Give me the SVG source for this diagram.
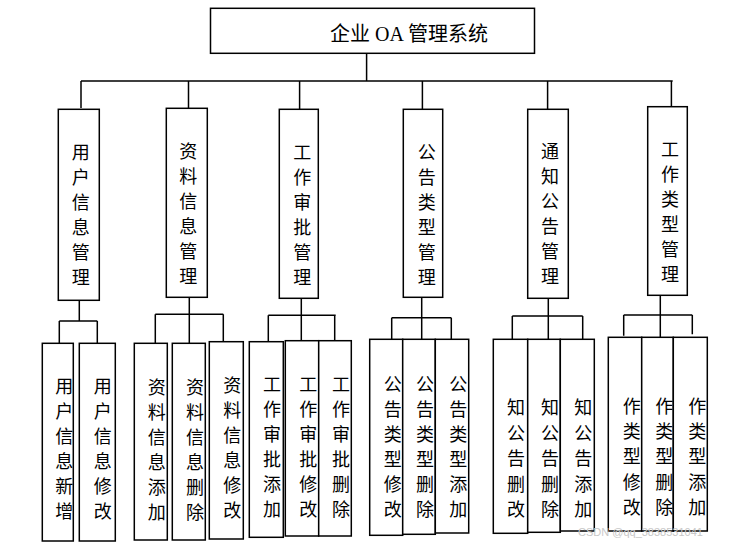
<svg xmlns="http://www.w3.org/2000/svg" width="735" height="546" viewBox="0 0 735 546">
<style>
.b{fill:#fff;stroke:#000;stroke-width:1.5}
.t{font-family:"Liberation Serif","Noto Sans CJK SC",serif;font-size:18px;fill:#000;text-anchor:middle;dominant-baseline:central}
.c{fill:none;stroke:#000;stroke-width:1.5}
.w{font-family:"Liberation Sans","DejaVu Sans",sans-serif;font-size:11px;fill:#c8c8c8}
</style>
<rect width="735" height="546" fill="#fff"/>
<g id="connectors" class="c">
<path d="M366.6,53 V81 M81,81 H672.7 M81,81 V108 M188.5,81 V108 M299.6,81 V109 M422.4,81 V109 M547.6,81 V109 M671.4,81 V106.7"/>
<path d="M79.3,300 V321 M59.3,321 H97.3 M59.3,321 V343.3 M97.3,321 V343.3"/>
<path d="M189.3,297 V314.3 M155.3,314.3 H223.3 M155.3,314.3 V343.3 M189.3,314.3 V343.3 M223.3,314.3 V341.7"/>
<path d="M301.3,298 V315.3 M268.3,315.3 H335.7 M268.3,315.3 V341.7 M301.3,315.3 V340.7 M334.7,315.3 V340.7"/>
<path d="M421.7,297 V317.7 M391.7,317.7 H451.3 M391.7,317.7 V339.3 M421.7,317.7 V339.3 M451.3,317.7 V339.3"/>
<path d="M548.3,298 V316 M512.3,316 H582.7 M512.3,316 V339.3 M548.3,316 V339.3 M582.7,316 V339.3"/>
<path d="M660.3,295 V315 M623.7,315 H692.3 M623.7,315 V335.7 M660.3,315 V337.3 M692.3,315 V334.3"/>
</g>
<g id="root"><rect class="b" x="210.5" y="8.3" width="324" height="45"/><text class="t" x="409" y="33.5" style="font-size:20px">企业 OA 管理系统</text></g>
<g id="n1"><rect class="b" x="58.3" y="109.3" width="41" height="191"/><text class="t"><tspan x="80.7" y="153">用</tspan><tspan x="80.7" y="178">户</tspan><tspan x="80.7" y="203">信</tspan><tspan x="80.7" y="228">息</tspan><tspan x="80.7" y="253">管</tspan><tspan x="80.7" y="278">理</tspan></text></g>
<g id="n2"><rect class="b" x="166.3" y="108.3" width="41" height="189"/><text class="t"><tspan x="188.3" y="151.7">资</tspan><tspan x="188.3" y="176.7">料</tspan><tspan x="188.3" y="201.7">信</tspan><tspan x="188.3" y="226.7">息</tspan><tspan x="188.3" y="251.7">管</tspan><tspan x="188.3" y="276.7">理</tspan></text></g>
<g id="n3"><rect class="b" x="279.3" y="109.3" width="39" height="189"/><text class="t"><tspan x="302.3" y="153.3">工</tspan><tspan x="302.3" y="178.3">作</tspan><tspan x="302.3" y="203.3">审</tspan><tspan x="302.3" y="228.3">批</tspan><tspan x="302.3" y="253.3">管</tspan><tspan x="302.3" y="278.3">理</tspan></text></g>
<g id="n4"><rect class="b" x="403.3" y="109.3" width="39.4" height="188"/><text class="t"><tspan x="426.7" y="153.3">公</tspan><tspan x="426.7" y="178.3">告</tspan><tspan x="426.7" y="203.3">类</tspan><tspan x="426.7" y="228.3">型</tspan><tspan x="426.7" y="253.3">管</tspan><tspan x="426.7" y="278.3">理</tspan></text></g>
<g id="n5"><rect class="b" x="527.7" y="109.3" width="40.6" height="189"/><text class="t"><tspan x="550" y="152.3">通</tspan><tspan x="550" y="177.3">知</tspan><tspan x="550" y="202.3">公</tspan><tspan x="550" y="227.3">告</tspan><tspan x="550" y="252.3">管</tspan><tspan x="550" y="277.3">理</tspan></text></g>
<g id="n6"><rect class="b" x="647.7" y="106.7" width="39.6" height="188.6"/><text class="t"><tspan x="670" y="150">工</tspan><tspan x="670" y="175">作</tspan><tspan x="670" y="200">类</tspan><tspan x="670" y="225">型</tspan><tspan x="670" y="250">管</tspan><tspan x="670" y="275">理</tspan></text></g>
<g id="l1"><rect class="b" x="42.3" y="343.3" width="31" height="197.7"/><text class="t"><tspan x="64.3" y="386.7">用</tspan><tspan x="64.3" y="411.7">户</tspan><tspan x="64.3" y="436.7">信</tspan><tspan x="64.3" y="461.7">息</tspan><tspan x="64.3" y="486.7">新</tspan><tspan x="64.3" y="511.7">增</tspan></text></g>
<g id="l2"><rect class="b" x="79.3" y="343.3" width="36" height="197.7"/><text class="t"><tspan x="102.7" y="386.7">用</tspan><tspan x="102.7" y="411.7">户</tspan><tspan x="102.7" y="436.7">信</tspan><tspan x="102.7" y="461.7">息</tspan><tspan x="102.7" y="486.7">修</tspan><tspan x="102.7" y="511.7">改</tspan></text></g>
<g id="l3"><rect class="b" x="134.3" y="343.3" width="33" height="196.7"/><text class="t"><tspan x="156.7" y="388">资</tspan><tspan x="156.7" y="413">料</tspan><tspan x="156.7" y="438">信</tspan><tspan x="156.7" y="463">息</tspan><tspan x="156.7" y="488">添</tspan><tspan x="156.7" y="513">加</tspan></text></g>
<g id="l4"><rect class="b" x="172.3" y="343.3" width="33" height="196.7"/><text class="t"><tspan x="195" y="388">资</tspan><tspan x="195" y="413">料</tspan><tspan x="195" y="438">信</tspan><tspan x="195" y="463">息</tspan><tspan x="195" y="488">删</tspan><tspan x="195" y="513">除</tspan></text></g>
<g id="l5"><rect class="b" x="209.3" y="341.7" width="34" height="197.3"/><text class="t"><tspan x="232.3" y="386">资</tspan><tspan x="232.3" y="411">料</tspan><tspan x="232.3" y="436">信</tspan><tspan x="232.3" y="461">息</tspan><tspan x="232.3" y="486">修</tspan><tspan x="232.3" y="511">改</tspan></text></g>
<g id="l6"><rect class="b" x="249.3" y="341.7" width="34" height="195.6"/><text class="t"><tspan x="272" y="385">工</tspan><tspan x="272" y="410">作</tspan><tspan x="272" y="435">审</tspan><tspan x="272" y="460">批</tspan><tspan x="272" y="485">添</tspan><tspan x="272" y="510">加</tspan></text></g>
<g id="l7"><rect class="b" x="285.3" y="340.7" width="33.4" height="195.3"/><text class="t"><tspan x="308.3" y="385">工</tspan><tspan x="308.3" y="410">作</tspan><tspan x="308.3" y="435">审</tspan><tspan x="308.3" y="460">批</tspan><tspan x="308.3" y="485">修</tspan><tspan x="308.3" y="510">改</tspan></text></g>
<g id="l8"><rect class="b" x="318.7" y="340.7" width="32.6" height="195.3"/><text class="t"><tspan x="341" y="385">工</tspan><tspan x="341" y="410">作</tspan><tspan x="341" y="435">审</tspan><tspan x="341" y="460">批</tspan><tspan x="341" y="485">删</tspan><tspan x="341" y="510">除</tspan></text></g>
<g id="l9"><rect class="b" x="369.7" y="339.3" width="33" height="196"/><text class="t"><tspan x="392.7" y="385">公</tspan><tspan x="392.7" y="410">告</tspan><tspan x="392.7" y="435">类</tspan><tspan x="392.7" y="460">型</tspan><tspan x="392.7" y="485">修</tspan><tspan x="392.7" y="510">改</tspan></text></g>
<g id="l10"><rect class="b" x="402.7" y="339.3" width="32.6" height="195"/><text class="t"><tspan x="425" y="385">公</tspan><tspan x="425" y="410">告</tspan><tspan x="425" y="435">类</tspan><tspan x="425" y="460">型</tspan><tspan x="425" y="485">删</tspan><tspan x="425" y="510">除</tspan></text></g>
<g id="l11"><rect class="b" x="435.3" y="339.3" width="33.4" height="193.7"/><text class="t"><tspan x="458.3" y="385">公</tspan><tspan x="458.3" y="410">告</tspan><tspan x="458.3" y="435">类</tspan><tspan x="458.3" y="460">型</tspan><tspan x="458.3" y="485">添</tspan><tspan x="458.3" y="510">加</tspan></text></g>
<g id="l12"><rect class="b" x="493.3" y="339.3" width="34.4" height="194"/><text class="t"><tspan x="516" y="408.3">知</tspan><tspan x="516" y="433.7">公</tspan><tspan x="516" y="459.1">告</tspan><tspan x="516" y="484.5">删</tspan><tspan x="516" y="510">改</tspan></text></g>
<g id="l13"><rect class="b" x="527.7" y="339.3" width="32.6" height="193"/><text class="t"><tspan x="550" y="408.3">知</tspan><tspan x="550" y="433.7">公</tspan><tspan x="550" y="459.1">告</tspan><tspan x="550" y="484.5">删</tspan><tspan x="550" y="510">除</tspan></text></g>
<g id="l14"><rect class="b" x="560.3" y="339.3" width="34" height="191.7"/><text class="t"><tspan x="583.3" y="408.3">知</tspan><tspan x="583.3" y="433.7">公</tspan><tspan x="583.3" y="459.1">告</tspan><tspan x="583.3" y="484.5">添</tspan><tspan x="583.3" y="510">加</tspan></text></g>
<g id="l15"><rect class="b" x="608.3" y="337.3" width="33.4" height="193.7"/><text class="t"><tspan x="631.7" y="406.7">作</tspan><tspan x="631.7" y="432">类</tspan><tspan x="631.7" y="457.4">型</tspan><tspan x="631.7" y="482.8">修</tspan><tspan x="631.7" y="508.3">改</tspan></text></g>
<g id="l16"><rect class="b" x="641.7" y="337.3" width="31.6" height="193.7"/><text class="t"><tspan x="664.3" y="406.7">作</tspan><tspan x="664.3" y="432">类</tspan><tspan x="664.3" y="457.4">型</tspan><tspan x="664.3" y="482.8">删</tspan><tspan x="664.3" y="508.3">除</tspan></text></g>
<g id="l17"><rect class="b" x="673.3" y="337.3" width="34" height="193.7"/><text class="t"><tspan x="697.3" y="406.7">作</tspan><tspan x="697.3" y="432">类</tspan><tspan x="697.3" y="457.4">型</tspan><tspan x="697.3" y="482.8">添</tspan><tspan x="697.3" y="508.3">加</tspan></text></g>
<text class="w" x="578" y="536">CSDN @qq_3838531041</text>
</svg>
